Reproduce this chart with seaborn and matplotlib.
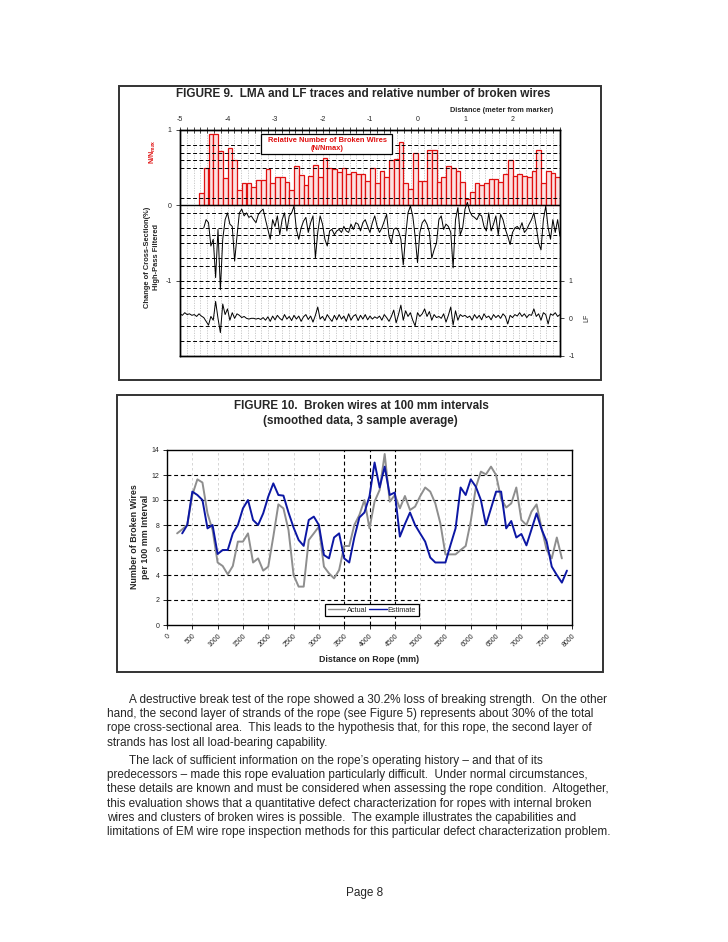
import numpy as np
import pandas as pd
import seaborn as sns
import matplotlib
matplotlib.use('Agg')
import matplotlib.pyplot as plt
from matplotlib.patches import Rectangle
from matplotlib.ticker import MultipleLocator

W, H = 728, 942

# ---- FIGURE 9 data ----
# relative number of broken wires, one bar per 0.1 m
bar_dist = np.round(np.arange(-4.55, 3.0, 0.1), 2)
bar_rel = [0.16, 0.50, 0.95, 0.95, 0.72, 0.36, 0.76, 0.60, 0.20, 0.29,
           0.29, 0.24, 0.33, 0.33, 0.48, 0.30, 0.37, 0.37, 0.31, 0.20,
           0.52, 0.40, 0.27, 0.39, 0.53, 0.38, 0.63, 0.49, 0.48, 0.44,
           0.49, 0.42, 0.44, 0.42, 0.41, 0.32, 0.50, 0.30, 0.45, 0.37,
           0.60, 0.62, 0.84, 0.29, 0.22, 0.70, 0.32, 0.32, 0.74, 0.74,
           0.31, 0.38, 0.52, 0.50, 0.45, 0.31, 0.09, 0.18, 0.29, 0.27,
           0.30, 0.35, 0.35, 0.31, 0.42, 0.60, 0.39, 0.41, 0.39, 0.37,
           0.45, 0.74, 0.29, 0.45, 0.43, 0.37]

# LMA trace (change of cross-section, high-pass filtered), every 0.05 m
lma_dist = np.round(np.arange(-4.5, 3.001, 0.05), 2)
lma_vals = [-0.30, -0.19, -0.23, -0.54, -0.45, -0.96, -0.32, -1.12, -0.45, -0.19,
            -0.10, -0.25, -0.28, -0.74, -0.41, -0.10, -0.05, -0.14, -0.10, -0.16,
            -0.14, -0.19, -0.23, -0.12, -0.08, -0.05, -0.19, -0.32, -0.45, -0.19,
            -0.28, -0.14, -0.39, -0.19, -0.10, -0.34, -0.14, -0.10, -0.01, -0.32,
            -0.45, -0.30, -0.21, -0.16, -0.36, -0.23, -0.14, -0.70, -0.36, -0.14,
            -0.25, -0.45, -0.54, -0.34, -0.32, -0.39, -0.34, -0.32, -0.36, -0.28,
            -0.34, -0.36, -0.25, -0.32, -0.23, -0.25, -0.34, -0.23, -0.19, -0.28,
            -0.36, -0.23, -0.14, -0.28, -0.36, -0.30, -0.21, -0.12, -0.41, -0.50,
            -0.32, -0.30, -0.34, -0.45, -0.79, -0.41, -0.10, -0.01, -0.14, -0.41,
            -0.76, -0.36, -0.23, -0.19, -0.25, -0.36, -0.70, -0.59, -0.50, -0.19,
            -0.14, -0.32, -0.25, -0.28, -0.36, -0.83, -0.19, -0.03, -0.39, -0.30,
            -0.05, 0.04, -0.08, -0.14, -0.16, -0.19, -0.12, -0.14, -0.28, -0.34,
            -0.10, -0.34, -0.25, -0.14, -0.39, -0.12, -0.19, -0.32, -0.41, -0.52,
            -0.36, -0.30, -0.28, -0.32, -0.23, -0.36, -0.32, -0.25, -0.19, -0.10,
            -0.28, -0.50, -0.59, -0.19, -0.01, -0.30, -0.45, -0.19, -0.36, -0.19, -0.41]

# LF trace, every 0.05 m
lf_dist = np.round(np.arange(-5.0, 3.001, 0.05), 2)
lf_vals = [0.12, 0.08, 0.15, 0.10, 0.12, 0.08, 0.10, 0.05, 0.12, 0.06,
           0.02, -0.08, -0.18, 0.05, -0.05, 0.45, 0.00, -0.38, 0.38, 0.10,
           0.25, -0.05, 0.15, 0.00, 0.12, 0.08, 0.02, 0.05, 0.00, -0.02,
           0.00, 0.00, -0.02, 0.00, -0.03, 0.02, -0.05, 0.04, -0.08, 0.06,
           -0.04, 0.08, 0.00, -0.05, 0.10, -0.02, 0.05, -0.06, 0.08, -0.02,
           0.06, -0.08, 0.04, 0.10, -0.03, 0.06, -0.10, 0.08, 0.30, -0.02,
           0.05, -0.06, 0.10, 0.00, -0.08, 0.08, -0.04, 0.10, -0.02, 0.06,
           -0.08, 0.12, -0.05, 0.06, 0.10, -0.06, 0.08, -0.02, 0.10, -0.04,
           0.06, -0.02, 0.04, 0.00, 0.06, -0.05, 0.10, 0.02, -0.08, 0.05,
           0.22, -0.12, 0.10, 0.35, -0.05, 0.20, 0.05, 0.15, -0.05, -0.20,
           0.15, 0.05, 0.12, 0.25, 0.05, 0.18, -0.05, 0.10, 0.02, 0.05,
           0.00, 0.12, -0.10, 0.08, 0.30, -0.18, 0.20, -0.05, 0.10, 0.05,
           0.08, 0.02, 0.06, -0.05, 0.10, 0.00, 0.08, -0.04, 0.12, 0.02,
           0.06, -0.04, 0.10, 0.02, 0.08, 0.00, 0.12, 0.05, -0.15, 0.08,
           0.02, 0.10, 0.06, 0.15, 0.05, 0.12, 0.02, 0.10, 0.08, 0.25,
           0.05, 0.12, -0.05, 0.15, 0.10, -0.15, 0.12, 0.08, 0.15, 0.05, 0.10]

fig9_ticks = [-5, -4, -3, -2, -1, 0, 1, 2]
fig9_hlines = [0.8, 0.7, 0.6, 0.5, 0.1, -0.1, -0.3, -0.4, -0.5, -0.7, -0.8,
               -1.0, -1.1, -1.2, -1.6, -1.8]

# ---- FIGURE 10 data ----
actual_mm = np.arange(200, 7801, 100)
actual = [7.33, 7.65, 8.0, 10.4, 11.65, 11.4, 8.93, 7.6, 5.0, 4.72,
          4.05, 4.72, 6.67, 6.67, 7.33, 5.0, 5.33, 4.35, 4.67, 7.07,
          9.65, 9.33, 7.6, 4.0, 3.07, 3.07, 6.8, 7.33, 7.87, 4.67,
          4.13, 3.73, 4.4, 6.32, 6.32, 8.0, 8.8, 10.0, 7.73, 9.87,
          10.8, 13.68, 9.87, 10.4, 9.33, 10.32, 9.2, 9.47, 10.3, 11.0,
          10.67, 9.73, 8.13, 5.65, 5.65, 5.65, 6.0, 6.32, 8.3, 11.0,
          12.27, 12.05, 12.67, 12.0, 10.1, 9.4, 9.73, 11.0, 8.4, 8.0,
          9.07, 9.65, 7.73, 6.0, 5.33, 7.0, 5.33]
estimate_mm = np.arange(300, 7901, 100)
estimate = [7.33, 8.0, 10.67, 10.4, 10.0, 7.73, 8.0, 5.68, 6.0, 6.0,
            7.33, 8.0, 9.33, 10.0, 8.4, 8.0, 8.93, 10.27, 11.33, 10.4,
            10.35, 9.0, 7.8, 6.8, 6.33, 8.4, 8.67, 8.0, 5.6, 5.33,
            7.0, 7.33, 5.33, 5.0, 7.0, 8.6, 9.0, 10.3, 13.0, 11.0,
            12.67, 10.4, 10.6, 7.07, 8.08, 9.0, 8.0, 7.33, 6.67, 5.4,
            5.0, 5.0, 5.0, 6.4, 7.73, 11.0, 10.4, 11.65, 11.07, 10.0,
            8.0, 9.33, 10.67, 10.67, 7.73, 8.32, 7.0, 7.28, 6.37, 7.65,
            8.93, 7.65, 6.67, 4.67, 4.0, 3.39, 4.35]
fig10_xticks = list(range(0, 8001, 500))
fig10_yticks = list(range(0, 15, 2))
fig10_black_v = [3500, 4000, 4500]
fig10_gray_v = [500, 1000, 1500, 2000, 2500, 3000, 5000, 5500, 6000, 6500, 7000, 7500]

para1 = [
    "A destructive break test of the rope showed a 30.2% loss of breaking strength.  On the other",
    "hand, the second layer of strands of the rope (see Figure 5) represents about 30% of the total",
    "rope cross-sectional area.  This leads to the hypothesis that, for this rope, the second layer of",
    "strands has lost all load-bearing capability.",
]
para2 = [
    "The lack of sufficient information on the rope\u2019s operating history \u2013 and that of its",
    "predecessors \u2013 made this rope evaluation particularly difficult.  Under normal circumstances,",
    "these details are known and must be considered when assessing the rope condition.  Altogether,",
    "this evaluation shows that a quantitative defect characterization for ropes with internal broken",
    "wires and clusters of broken wires is possible.  The example illustrates the capabilities and",
    "limitations of EM wire rope inspection methods for this particular defect characterization problem.",
]


def px_box(l, t, r, b):
    return [l / W, 1 - b / H, (r - l) / W, (b - t) / H]


def ftext(fig, x, y, s, **kw):
    kw.setdefault('ha', 'center')
    kw.setdefault('va', 'center')
    fig.text(x / W, 1 - y / H, s, **kw)


def frame(fig, l, t, r, b, **kw):
    fig.add_artist(Rectangle((l / W, 1 - b / H), (r - l) / W, (b - t) / H,
                             transform=fig.transFigure, **kw))


def draw_fig9(fig):
    ax = fig.add_axes(px_box(180, 130, 560, 356))
    ax.bar(bar_dist, bar_rel, width=0.1, facecolor='#fbe1e1',
           edgecolor='#e01010', linewidth=0.9, zorder=2)
    sns.lineplot(x=lma_dist, y=lma_vals, color='black', linewidth=0.7,
                 estimator=None, ax=ax, zorder=4)
    for v in fig9_hlines:
        ax.axhline(v, color='black', linewidth=0.7, linestyle=(0, (4, 2.5)), zorder=3)
    ax.axhline(0, color='black', linewidth=1.0, zorder=4)
    ax.set_xlim(-5, 3)
    ax.set_ylim(-2, 1)
    ax.set_xlabel('')
    ax.set_ylabel('')
    ax.xaxis.set_ticks_position('top')
    ax.set_xticks(fig9_ticks)
    ax.set_xticklabels([str(t) for t in fig9_ticks], fontsize=5)
    ax.xaxis.set_minor_locator(MultipleLocator(1 / 7))
    ax.tick_params(axis='x', which='both', top=True, bottom=False, labeltop=True,
                   labelbottom=False, direction='inout', length=4, width=0.6, pad=3)
    ax.grid(axis='x', which='both', color='#c4c4c4', linestyle=(0, (1.5, 1.5)),
            linewidth=0.6)
    ax.set_yticks([1, 0, -1])
    ax.set_yticklabels(['1', '0', '-1'], fontsize=5)
    ax.tick_params(axis='y', direction='out', length=3, width=0.6, pad=3)
    for s in ax.spines.values():
        s.set_color('black')
        s.set_linewidth(1.0)

    axr = ax.twinx()
    sns.lineplot(x=lf_dist, y=lf_vals, color='black', linewidth=0.7,
                 estimator=None, ax=axr)
    axr.set_ylim(-1, 5)
    axr.set_ylabel('')
    axr.set_yticks([1, 0, -1])
    axr.set_yticklabels(['1', '0', '-1'], fontsize=5)
    axr.tick_params(axis='y', direction='out', length=3, width=0.6, pad=3)
    for s in axr.spines.values():
        s.set_color('black')
        s.set_linewidth(1.0)

    ftext(fig, 363, 94, 'FIGURE 9.  LMA and LF traces and relative number of broken wires',
          fontsize=8.5, fontweight='bold')
    ftext(fig, 502, 111, 'Distance (meter from marker)', fontsize=5.3, fontweight='bold')
    frame(fig, 261, 134, 392, 154, facecolor='white', edgecolor='black', linewidth=0.9,
          zorder=5)
    ftext(fig, 327, 140, 'Relative Number of Broken Wires', fontsize=5.4,
          fontweight='bold', color='#e01010', zorder=6)
    ftext(fig, 327, 149, '(N/Nmax)', fontsize=5.4, fontweight='bold',
          color='#e01010', zorder=6)
    ftext(fig, 153, 152, r'N/N$_{\mathregular{max}}$', fontsize=5.2, fontweight='bold',
          color='#e01010', rotation=90)
    ftext(fig, 152, 257, 'Change of Cross-Section(%)\nHigh-Pass Filtered', fontsize=5.4,
          fontweight='bold', rotation=90, multialignment='center', linespacing=1.35)
    ftext(fig, 587, 318, 'LF', fontsize=5, rotation=90)
    frame(fig, 119, 86, 601, 380, fill=False, edgecolor='#333333', linewidth=1.4)


def draw_fig10(fig):
    ax = fig.add_axes(px_box(167, 450, 572, 625))
    df = pd.concat([
        pd.DataFrame({'mm': actual_mm, 'n': actual, 'series': 'Actual'}),
        pd.DataFrame({'mm': estimate_mm, 'n': estimate, 'series': 'Estimate'}),
    ], ignore_index=True)
    for v in fig10_gray_v:
        ax.axvline(v, color='#cfcfcf', linewidth=0.6, linestyle=(0, (3, 3)), zorder=1)
    for v in fig10_black_v:
        ax.axvline(v, color='black', linewidth=0.8, linestyle=(0, (3.5, 2.5)), zorder=1)
    for v in fig10_yticks[1:-1]:
        ax.axhline(v, color='black', linewidth=0.8, linestyle=(0, (3.5, 2.5)), zorder=1)
    sns.lineplot(data=df, x='mm', y='n', hue='series',
                 palette={'Actual': '#8e8e8e', 'Estimate': '#0c17a4'},
                 linewidth=1.4, estimator=None, ax=ax, zorder=3)
    ax.set_xlim(0, 8000)
    ax.set_ylim(0, 14)
    ax.set_xlabel('')
    ax.set_ylabel('')
    ax.set_xticks(fig10_xticks)
    ax.set_xticklabels([str(t) for t in fig10_xticks], fontsize=5, rotation=45,
                       ha='right', rotation_mode='anchor')
    ax.set_yticks(fig10_yticks)
    ax.set_yticklabels([str(t) for t in fig10_yticks], fontsize=5)
    ax.tick_params(axis='both', direction='out', length=3, width=0.7, pad=2.5)
    for s in ax.spines.values():
        s.set_color('black')
        s.set_linewidth(1.0)
    leg = ax.legend(loc='center', bbox_to_anchor=(0.506, 0.086), ncol=2, fontsize=5.3,
                    frameon=True, fancybox=False, edgecolor='black', framealpha=1,
                    handlelength=2.4, handletextpad=0.15, columnspacing=0.3,
                    borderpad=0.35, borderaxespad=0)
    leg.get_frame().set_linewidth(0.9)
    for line in leg.get_lines():
        line.set_linewidth(1.0)

    ftext(fig, 361, 406, 'FIGURE 10.  Broken wires at 100 mm intervals', fontsize=8.4,
          fontweight='bold')
    ftext(fig, 360, 421, '(smoothed data, 3 sample average)', fontsize=8.4,
          fontweight='bold')
    ftext(fig, 140, 537, 'Number of Broken Wires\nper 100 mm Interval', fontsize=6.4,
          fontweight='bold', rotation=90, multialignment='center', linespacing=1.25)
    ftext(fig, 369, 660, 'Distance on Rope (mm)', fontsize=6.4, fontweight='bold')
    frame(fig, 117, 395, 603, 672, fill=False, edgecolor='#333333', linewidth=1.4)


def draw_text(fig):
    y = 700
    for i, line in enumerate(para1):
        ftext(fig, 129 if i == 0 else 107, y, line, fontsize=8.5, ha='left')
        y += 14.2
    y = 761
    for i, line in enumerate(para2):
        ftext(fig, 129 if i == 0 else 107, y, line, fontsize=8.5, ha='left')
        y += 14.2
    ftext(fig, 365, 893, 'Page 8', fontsize=8.5)


def main():
    sns.set_style('ticks')
    plt.rcParams['font.family'] = ['Liberation Sans', 'DejaVu Sans']
    plt.rcParams['mathtext.fontset'] = 'custom'
    plt.rcParams['mathtext.rm'] = 'Liberation Sans:bold'
    fig = plt.figure(figsize=(W / 100, H / 100), dpi=100, facecolor='white')
    draw_fig9(fig)
    draw_fig10(fig)
    draw_text(fig)
    fig.savefig('out.png', dpi=100, facecolor='white')


if __name__ == '__main__':
    main()
